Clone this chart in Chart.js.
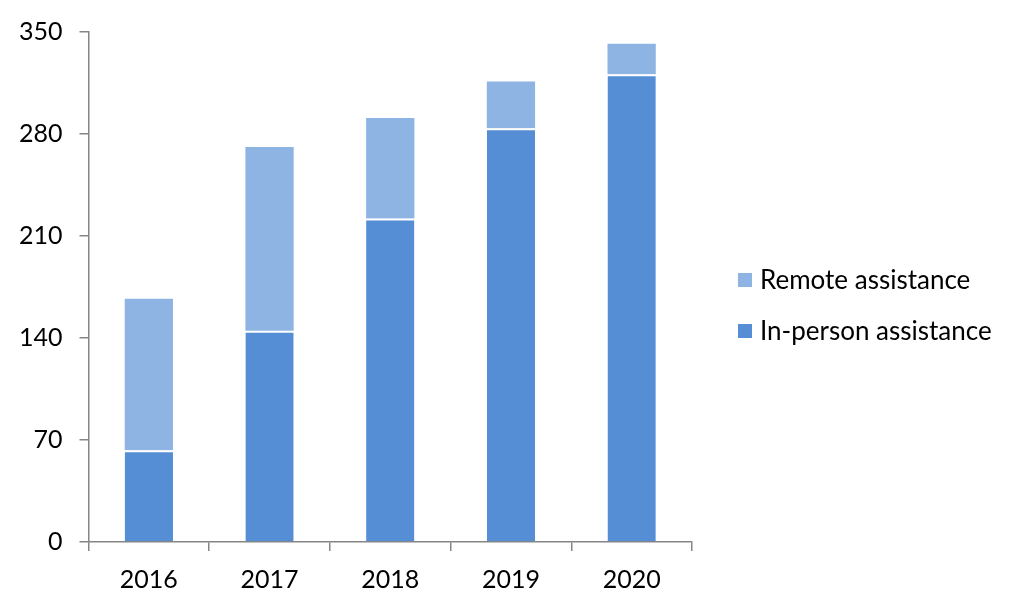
<!DOCTYPE html>
<html>
<head>
<meta charset="utf-8">
<script src="https://cdn.jsdelivr.net/npm/chart.js@4.4.0/dist/chart.umd.min.js"></script>
<style>
    html, body { margin: 0; padding: 0; background: #fff; }
</style>
</head>
<body>
<canvas id="assistChart" width="1024" height="614"></canvas>
<script>
var years = ["2016", "2017", "2018", "2019", "2020"];
var inPerson = [63, 145, 222, 284, 321];
var remote = [104, 126, 69, 32, 21];
var yTicks = [0, 70, 140, 210, 280, 350];

var FONT = "Lato, 'Open Sans', sans-serif";

// legend drawn by hand so it can sit where the original has it
var sideLegend = {
    id: 'sideLegend',
    afterDraw: function(chart) {
        var ctx = chart.ctx;
        var sets = chart.data.datasets.slice().reverse();
        ctx.save();
        ctx.font = "26px " + FONT;
        ctx.textBaseline = "middle";
        for (var i = 0; i < sets.length; i++) {
            var y = 280 + i * 51;
            ctx.fillStyle = sets[i].backgroundColor;
            ctx.fillRect(738, y - 7, 14, 14);
            ctx.fillStyle = "#000";
            ctx.fillText(sets[i].label, 760, y + 1);
        }
        ctx.restore();
    }
};

var ctx = document.getElementById("assistChart");
var myChart = new Chart(ctx, {
    type: 'bar',
    data: {
        labels: years,
        datasets: [{
            label: "In-person assistance",
            data: inPerson,
            backgroundColor: "#558ed5",
            borderColor: "#ffffff",
            borderWidth: { top: 2, left: 0, right: 0, bottom: 0 },
            borderSkipped: false,
            categoryPercentage: 1,
            barPercentage: 0.4
        }, {
            label: "Remote assistance",
            data: remote,
            backgroundColor: "#8eb4e3",
            borderWidth: 0,
            categoryPercentage: 1,
            barPercentage: 0.4
        }]
    },
    options: {
        responsive: false,
        animation: false,
        devicePixelRatio: 1,
        layout: {
            padding: { left: 2, right: 332, top: 20, bottom: 5 }
        },
        plugins: {
            legend: { display: false },
            tooltip: { enabled: false }
        },
        scales: {
            x: {
                stacked: true,
                offset: true,
                border: { color: "#868686", width: 1.5 },
                grid: {
                    offset: true,
                    drawOnChartArea: false,
                    drawTicks: true,
                    tickLength: 9,
                    color: "#868686",
                    lineWidth: 1.5
                },
                ticks: {
                    color: "#000",
                    padding: 14,
                    font: { family: FONT, size: 25 }
                }
            },
            y: {
                stacked: true,
                min: 0,
                max: 350,
                afterBuildTicks: function(axis) {
                    axis.ticks = yTicks.map(function(v) { return { value: v }; });
                },
                border: { color: "#868686", width: 1.5 },
                grid: {
                    drawOnChartArea: false,
                    drawTicks: true,
                    tickLength: 9,
                    color: "#868686",
                    lineWidth: 1.5
                },
                ticks: {
                    color: "#000",
                    padding: 17,
                    font: { family: FONT, size: 25 }
                }
            }
        }
    },
    plugins: [sideLegend]
});
</script>
</body>
</html>
